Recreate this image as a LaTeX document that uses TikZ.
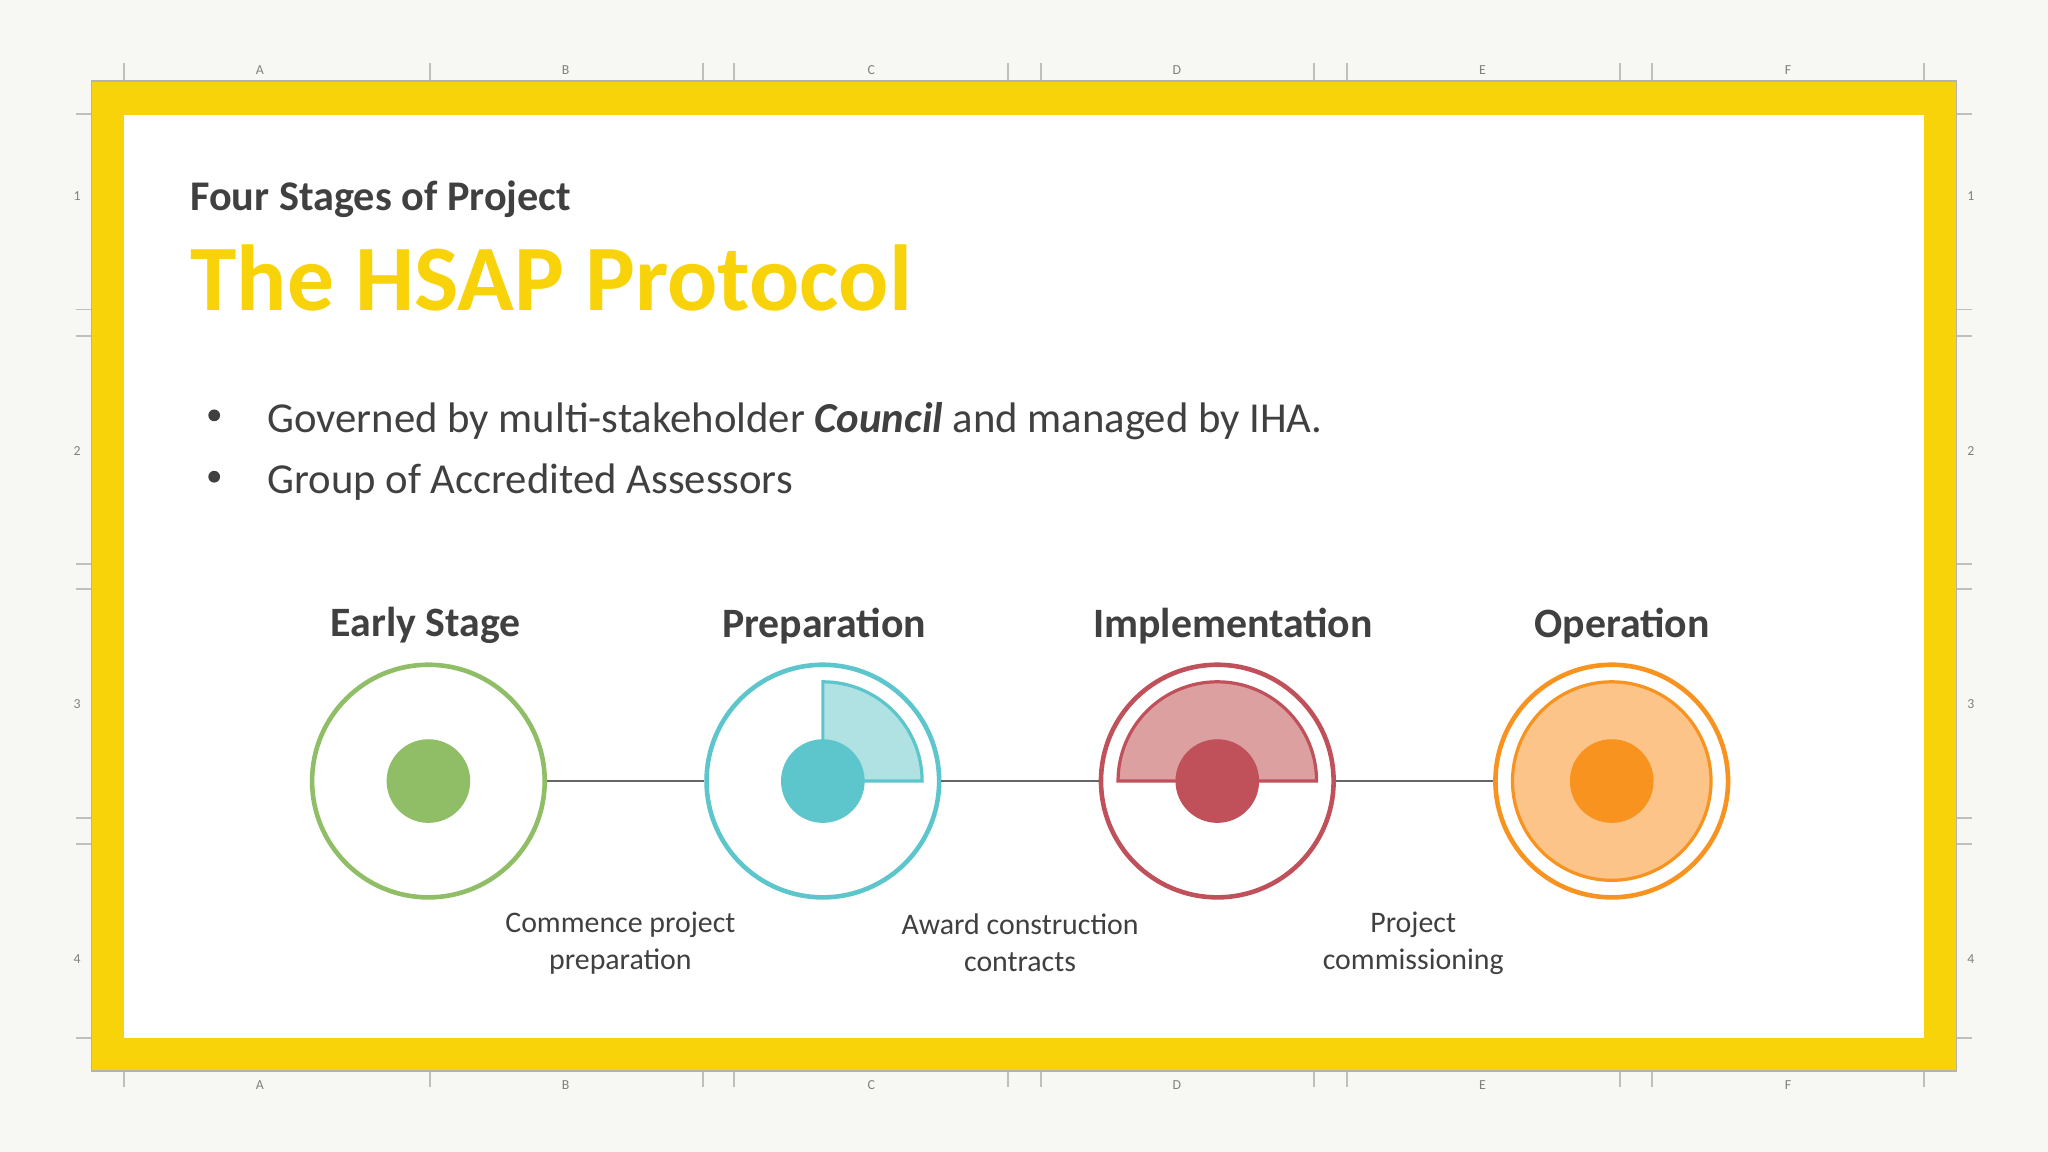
\documentclass[tikz,border=0pt]{standalone}
\usepackage{fontspec}
\setmainfont{Carlito}
\definecolor{bg}{HTML}{F7F7F3}
\definecolor{yel}{HTML}{F9D30A}
\definecolor{gr}{HTML}{8FBE67}
\definecolor{te}{HTML}{5CC6CC}
\definecolor{tel}{HTML}{B0E2E3}
\definecolor{rd}{HTML}{C0505A}
\definecolor{rdl}{HTML}{DCA0A0}
\definecolor{og}{HTML}{F7931E}
\definecolor{ogl}{HTML}{FCC488}
\definecolor{txt}{HTML}{404040}
\begin{document}
\begin{tikzpicture}[x=0.01cm,y=-0.01cm,
  ring/.style={circle,draw,line width=1pt,minimum size=1.78cm,inner sep=0},
  dot/.style={circle,minimum size=0.64cm,inner sep=0},
  link/.style={draw=txt!80,line width=0.6pt},
  stage/.style={font=\fontsize{9.1}{11}\selectfont\bfseries,text=txt},
  caption/.style={font=\fontsize{6.5}{8}\selectfont,text=txt,align=center},
  tickline/.style={draw=black!25,line width=0.4pt},
  lab/.style={font=\fontsize{3}{4}\selectfont,text=black!50}]
\useasboundingbox (0,0) rectangle (1568,882);
\fill[bg] (0,0) rectangle (1568,882);
% rulers
\foreach \x in {95,329,538,562,772,797,1006,1031,1240,1265,1473}{
  \draw[tickline] (\x,48) -- (\x,62); \draw[tickline] (\x,820) -- (\x,832);}
\foreach \y in {87,237,257,432,451,626,646,795}{
  \draw[tickline] (58,\y) -- (70,\y); \draw[tickline] (1498,\y) -- (1510,\y);}
\foreach \x/\l in {199/A,433/B,667/C,901/D,1135/E,1369/F}{
  \node[lab] at (\x,54) {\l}; \node[lab] at (\x,831) {\l};}
\foreach \y/\l in {150/1,345/2,539/3,734/4}{
  \node[lab] at (59,\y) {\l}; \node[lab] at (1509,\y) {\l};}
% frame
\fill[yel] (70,62) rectangle (1498,820);
\draw[black!30,line width=0.4pt] (70,62) rectangle (1498,820);
\fill[white] (95,88) rectangle (1473,795);
% titles
\node[anchor=base west,font=\fontsize{9.2}{11}\selectfont\bfseries,text=txt,inner sep=0] (sub) at (145,161) {Four Stages of Project};
\node[anchor=base west,font=\fontsize{20.4}{24}\selectfont\bfseries,text=yel,inner sep=0] (title) at (145,238) {The HSAP Protocol};
\node[anchor=base west,font=\fontsize{9.3}{12}\selectfont,text=txt,inner sep=0] (b1) at (204,331) {Governed by multi-stakeholder \textbf{\textit{Council}} and managed by IHA.};
\node[anchor=base west,font=\fontsize{9.3}{12}\selectfont,text=txt,inner sep=0] (b2) at (204,378) {Group of Accredited Assessors};
\fill[txt] (164,318) circle (4.5); \fill[txt] (164,365) circle (4.5);
% stages
\node[ring,draw=gr] (s1) at (328,598) {};
\node[ring,draw=te] (s2) at (630,598) {};
\node[ring,draw=rd] (s3) at (932,598) {};
\node[ring,draw=og] (s4) at (1234,598) {};
\draw[link] (s1) -- (s2); \draw[link] (s2) -- (s3); \draw[link] (s3) -- (s4);
\draw[te,fill=tel,line width=0.7pt] (630,598) -- (706,598) arc[start angle=0,end angle=-90,radius=76] -- cycle;
\draw[rd,fill=rdl,line width=0.7pt] (856,598) arc[start angle=180,end angle=360,radius=76] -- cycle;
\draw[og,fill=ogl,line width=0.7pt] (1234,598) circle (76);
\node[dot,fill=gr] (d1) at (328,598) {};
\node[dot,fill=te] (d2) at (630,598) {};
\node[dot,fill=rd] (d3) at (932,598) {};
\node[dot,fill=og] (d4) at (1234,598) {};
\node[stage] (l1) at (326,479) {Early Stage};
\node[stage] (l2) at (631,479) {Preparation};
\node[stage] (l3) at (944,479) {Implementation};
\node[stage] (l4) at (1242,479) {Operation};
\node[caption] (c1) at (475,722) {Commence project\\preparation};
\node[caption] (c2) at (781,722) {Award construction\\contracts};
\node[caption] (c3) at (1082,722) {Project\\commissioning};
\end{tikzpicture}
\end{document}
